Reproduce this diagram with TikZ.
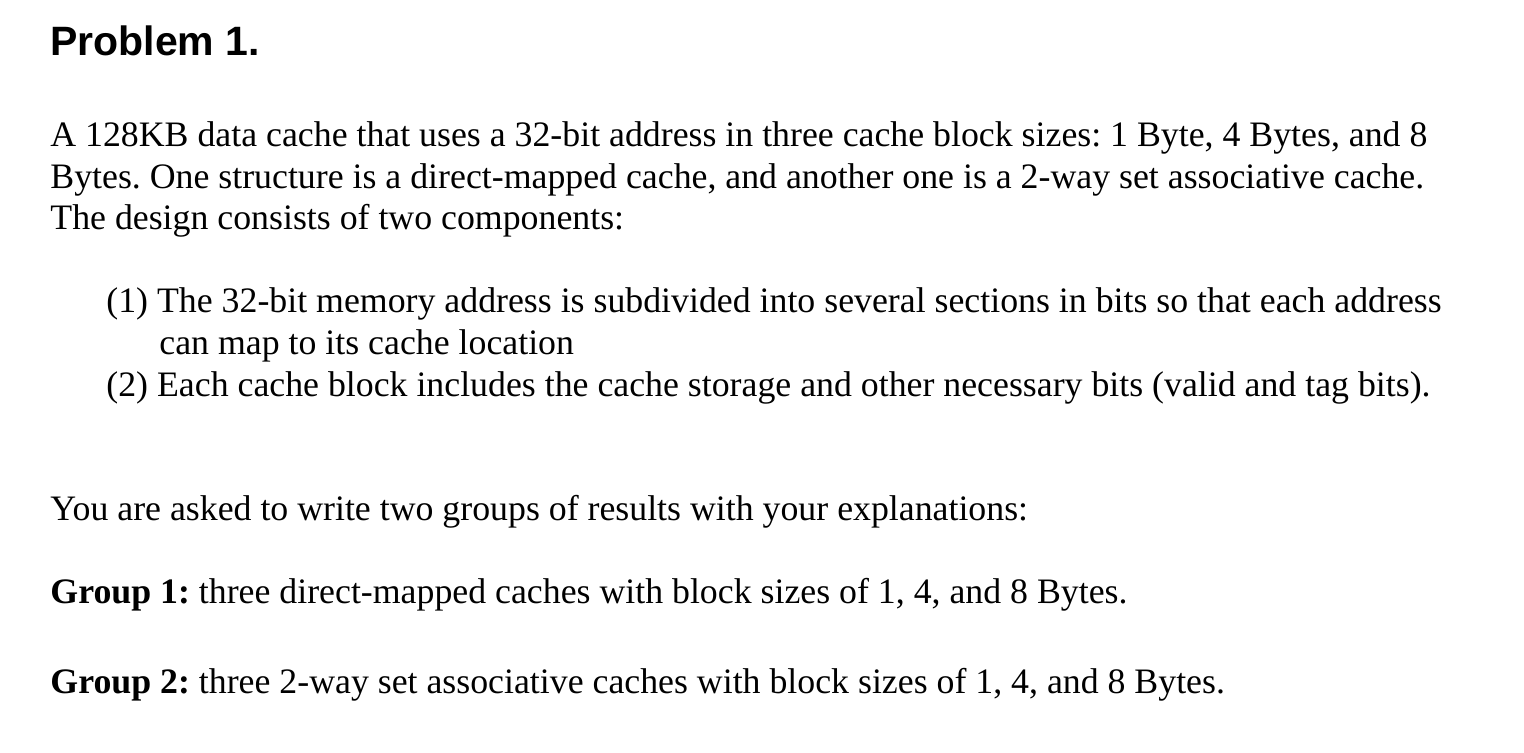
\documentclass[tikz,border=0pt]{standalone}
\usepackage{fontspec}
\setmainfont{Liberation Serif}
\newfontfamily\titlefont{Liberation Sans}
\frenchspacing
\begin{document}
\begin{tikzpicture}[x=0.5pt,y=-0.5pt,
  txt/.style={anchor=base west,inner sep=0pt,font=\fontsize{17.9}{20}\selectfont},
  ttl/.style={anchor=base west,inner sep=0pt,font=\titlefont\bfseries\fontsize{20.5}{22}\selectfont}]
\useasboundingbox (0,0) rectangle (1524,752);
\node[ttl] (t) at (50,55) {Problem 1.};
\node[txt] (l1) at (50,146) {A 128KB data cache that uses a 32-bit address in three cache block sizes: 1 Byte, 4 Bytes, and 8};
\node[txt] (l2) at (50,188) {Bytes. One structure is a direct-mapped cache, and another one is a 2-way set associative cache.};
\node[txt] (l3) at (50,229) {The design consists of two components:};
\node[txt] (i1) at (106,312) {(1) The 32-bit memory address is subdivided into several sections in bits so that each address};
\node[txt] (i1b) at (159,354) {can map to its cache location};
\node[txt] (i2) at (106,396) {(2) Each cache block includes the cache storage and other necessary bits (valid and tag bits).};
\node[txt] (y) at (50,520) {You are asked to write two groups of results with your explanations:};
\node[txt] (g1) at (50,603) {\textbf{Group 1:} three direct-mapped caches with block sizes of 1, 4, and 8 Bytes.};
\node[txt] (g2) at (50,693) {\textbf{Group 2:} three 2-way set associative caches with block sizes of 1, 4, and 8 Bytes.};
\end{tikzpicture}
\end{document}
